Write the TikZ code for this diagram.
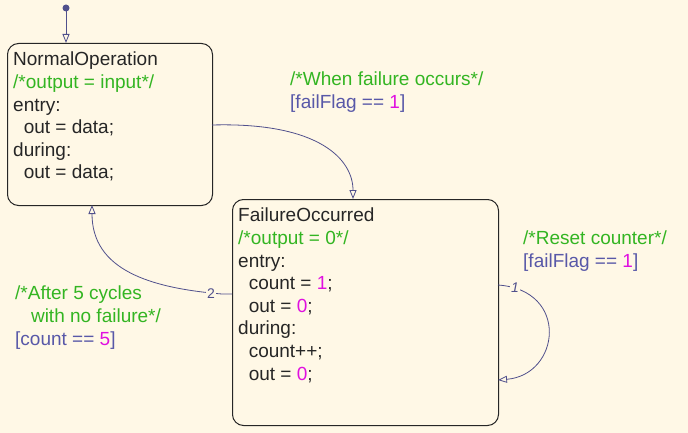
\documentclass[tikz,border=0pt]{standalone}
\usepackage{fontspec}
\setmainfont{Liberation Sans}
\usetikzlibrary{arrows.meta}
\definecolor{bg}{HTML}{FFF8E6}
\definecolor{cgreen}{HTML}{33B522}
\definecolor{cblue}{HTML}{5858A8}
\definecolor{cmag}{HTML}{E010E0}
\definecolor{cline}{HTML}{50508C}
\tikzset{
  statebox/.style={draw=black!85, line width=1pt, rounded corners=11pt, inner sep=0pt, anchor=north west},
  txt/.style={anchor=north west, align=left, inner sep=0pt, font=\fontsize{19}{22.6}\selectfont, text=black!85},
  trans/.style={draw=cline, line width=0.8pt, -{Triangle[open, length=9pt, width=7pt]}},
  num/.style={text=cline, font=\fontsize{14}{16}\selectfont\itshape, inner sep=1pt, fill=bg},
}
\newcommand{\cmt}[1]{\textcolor{cgreen}{#1}}
\newcommand{\cbr}[1]{\textcolor{cblue}{#1}}
\newcommand{\mgn}[1]{\textcolor{cmag}{#1}}
\begin{document}
\begin{tikzpicture}[x=1pt,y=-1pt]
\fill[bg] (0,0) rectangle (688,433);
\useasboundingbox (0,0) rectangle (688,433);
\node[statebox, minimum width=205pt, minimum height=162pt] (no) at (7,43) {};
\node[statebox, minimum width=266pt, minimum height=226pt] (fo) at (232,199) {};
\node[txt] (not) at (13,52) {NormalOperation\\\cmt{/*output = input*/}\\entry:\\\ \ out = data;\\during:\\\ \ out = data;};
\node[txt] (fot) at (238,208) {FailureOccurred\\\cmt{/*output = 0*/}\\entry:\\\ \ count = \mgn{1};\\\ \ out = \mgn{0};\\during:\\\ \ count++;\\\ \ out = \mgn{0};};
% initial
\fill[cline] (66,8) circle (3.5pt) coordinate (init);
\draw[trans] (init) -- (66,43);
% NO -> FO
\draw[trans] (212,125) .. controls (320,122) and (353,160) .. (353,199);
\node[txt, text=cgreen] (l1) at (290,72) {/*When failure occurs*/\\\cbr{[failFlag == \mgn{1}]}};
% FO -> NO (2)
\coordinate (s2) at (232,294);
\draw[trans] (s2) -- (222,294) .. controls (150,288) and (92,270) .. (92,205);
\node[num, anchor=center] (n2) at (211,294) {\upshape 2};
\node[txt, text=cgreen] (l2) at (15,286) {/*After 5 cycles\\\ \ \ with no failure*/\\\cbr{[count == \mgn{5}]}};
% self loop (1)
\draw[trans] (498,285) .. controls (570,290) and (560,375) .. (498,380);
\node[num, anchor=center] (n1) at (515,288) {1};
\node[txt, text=cgreen] (l3) at (523,231) {/*Reset counter*/\\\cbr{[failFlag == \mgn{1}]}};
\end{tikzpicture}
\end{document}
